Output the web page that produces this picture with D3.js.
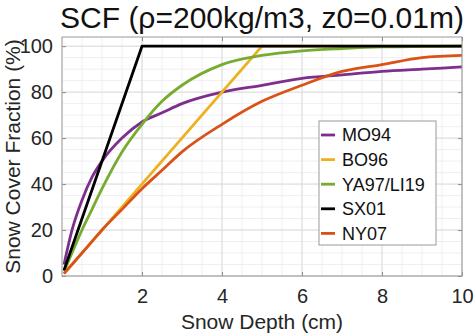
<!DOCTYPE html>
<html>
<head>
<meta charset="utf-8">
<script src="https://cdn.jsdelivr.net/npm/d3@7"></script>
<style>
  body { margin: 0; background: #fff; }
  svg { display: block; font-family: "Liberation Sans", Arial, sans-serif; }
</style>
</head>
<body>
<svg id="chart" width="474" height="336"></svg>
<script>
const WIDTH = 474;
const HEIGHT = 336;
const MARGIN = { top: 37, right: 12, bottom: 60, left: 62 };

// snow depth (cm) at which the smooth curves were read
const depth = [0.05, 0.25, 0.5, 0.75, 1, 1.5, 2, 2.5, 3, 4, 5, 6, 7, 8, 9, 10];

// snow cover fraction (%)
const mo94 = [5, 20, 33, 43, 50, 60, 67, 71, 75, 80, 83, 86, 87.5, 89, 90, 91];
const ya97 = [2, 10, 20, 29, 38, 54, 66, 76, 83, 92, 96, 98, 99, 99.7, 99.9, 100];
const ny07 = [1, 5, 10, 15, 20, 29, 38, 46, 54, 66, 76, 83, 89, 92, 95, 96];

// piecewise linear schemes, corner points only
const bo96Depth = [0.05, 5, 10];
const bo96 = [1, 100, 100];
const sx01Depth = [0.05, 2, 10];
const sx01 = [2.5, 100, 100];

const seriesNames = ['MO94', 'BO96', 'YA97/LI19', 'SX01', 'NY07'];
const xTicks = [2, 4, 6, 8, 10];
const yTicks = [0, 20, 40, 60, 80, 100];

const colors = ['#7E2F8E', '#EDB120', '#77AC30', '#000000', '#D95319'];

function pairs(xs, ys) {
  return xs.map((x, i) => ({ x: x, y: ys[i] }));
}

const series = [
  { name: seriesNames[0], values: pairs(depth, mo94), curve: d3.curveMonotoneX },
  { name: seriesNames[1], values: pairs(bo96Depth, bo96), curve: d3.curveLinear },
  { name: seriesNames[2], values: pairs(depth, ya97), curve: d3.curveMonotoneX },
  { name: seriesNames[3], values: pairs(sx01Depth, sx01), curve: d3.curveLinear },
  { name: seriesNames[4], values: pairs(depth, ny07), curve: d3.curveMonotoneX }
];

const svg = d3.select('#chart');
const innerW = WIDTH - MARGIN.left - MARGIN.right;
const innerH = HEIGHT - MARGIN.top - MARGIN.bottom;

const x = d3.scaleLinear().domain([0, 10]).range([0, innerW]);
const y = d3.scaleLinear().domain([0, 104]).range([innerH, 0]);

const g = svg.append('g')
  .attr('transform', 'translate(' + MARGIN.left + ',' + MARGIN.top + ')');

// minor grid first, then major grid on top
const xMinor = d3.range(0, 10.01, 0.5);
const yMinor = d3.range(0, 104, 5);

g.append('g').selectAll('line')
  .data(xMinor)
  .enter().append('line')
  .attr('x1', d => x(d)).attr('x2', d => x(d))
  .attr('y1', 0).attr('y2', innerH)
  .style('stroke', '#efefef');

g.append('g').selectAll('line')
  .data(yMinor)
  .enter().append('line')
  .attr('x1', 0).attr('x2', innerW)
  .attr('y1', d => y(d)).attr('y2', d => y(d))
  .style('stroke', '#efefef');

g.append('g').selectAll('line')
  .data(xTicks)
  .enter().append('line')
  .attr('x1', d => x(d)).attr('x2', d => x(d))
  .attr('y1', 0).attr('y2', innerH)
  .style('stroke', '#dcdcdc');

g.append('g').selectAll('line')
  .data(yTicks)
  .enter().append('line')
  .attr('x1', 0).attr('x2', innerW)
  .attr('y1', d => y(d)).attr('y2', d => y(d))
  .style('stroke', '#dcdcdc');

// axes: ticks point inward, mirrored on the top and right
const axisStyle = sel => {
  sel.select('.domain').remove();
  sel.selectAll('.tick line').style('stroke', '#8c8c8c');
  sel.selectAll('.tick text')
    .style('font-size', '20px')
    .style('fill', '#262626');
};

g.append('g')
  .attr('transform', 'translate(0,' + innerH + ')')
  .call(d3.axisBottom(x).tickValues(xTicks).tickSizeInner(-4).tickPadding(13))
  .call(axisStyle);

g.append('g')
  .call(d3.axisLeft(y).tickValues(yTicks).tickSizeInner(-4).tickPadding(9))
  .call(axisStyle);

g.append('g')
  .call(d3.axisTop(x).tickValues(xTicks).tickSizeInner(-4).tickFormat(''))
  .call(axisStyle);

g.append('g')
  .attr('transform', 'translate(' + innerW + ',0)')
  .call(d3.axisRight(y).tickValues(yTicks).tickSizeInner(-4).tickFormat(''))
  .call(axisStyle);

// the curves, clipped to the plot box
svg.append('clipPath').attr('id', 'plotClip')
  .append('rect').attr('width', innerW).attr('height', innerH);

const lines = g.append('g').attr('clip-path', 'url(#plotClip)');
series.forEach((s, i) => {
  const line = d3.line()
    .x(d => x(d.x))
    .y(d => y(d.y))
    .curve(s.curve);
  lines.append('path')
    .datum(s.values)
    .attr('d', line)
    .style('fill', 'none')
    .style('stroke', colors[i])
    .style('stroke-width', 2.8)
    .style('stroke-linejoin', 'round');
});

// box
g.append('rect')
  .attr('width', innerW)
  .attr('height', innerH)
  .style('fill', 'none')
  .style('stroke', '#999');

// legend
const legend = g.append('g')
  .attr('transform', 'translate(' + (319 - MARGIN.left) + ',' + (121 - MARGIN.top) + ')');

legend.append('rect')
  .attr('width', 117)
  .attr('height', 124)
  .style('fill', '#fff')
  .style('stroke', '#999');

const items = legend.selectAll('.item')
  .data(series)
  .enter().append('g')
  .attr('transform', (d, i) => 'translate(0,' + (14 + i * 24.6) + ')');

items.append('line')
  .attr('x1', 2).attr('x2', 16)
  .style('stroke', (d, i) => colors[i])
  .style('stroke-width', 2.8);

items.append('text')
  .attr('x', 23)
  .attr('dy', '0.35em')
  .style('font-size', '18px')
  .style('fill', '#111')
  .text(d => d.name);

// labels
svg.append('text')
  .attr('x', MARGIN.left + innerW / 2)
  .attr('y', 28)
  .attr('text-anchor', 'middle')
  .style('font-size', '30px')
  .style('fill', '#111')
  .text('SCF (ρ=200kg/m3, z0=0.01m)');

svg.append('text')
  .attr('x', MARGIN.left + innerW / 2)
  .attr('y', 329)
  .attr('text-anchor', 'middle')
  .style('font-size', '21px')
  .style('fill', '#262626')
  .text('Snow Depth (cm)');

svg.append('text')
  .attr('transform', 'translate(20,' + (MARGIN.top + innerH / 2) + ') rotate(-90)')
  .attr('text-anchor', 'middle')
  .style('font-size', '21px')
  .style('fill', '#262626')
  .text('Snow Cover Fraction (%)');
</script>
</body>
</html>
